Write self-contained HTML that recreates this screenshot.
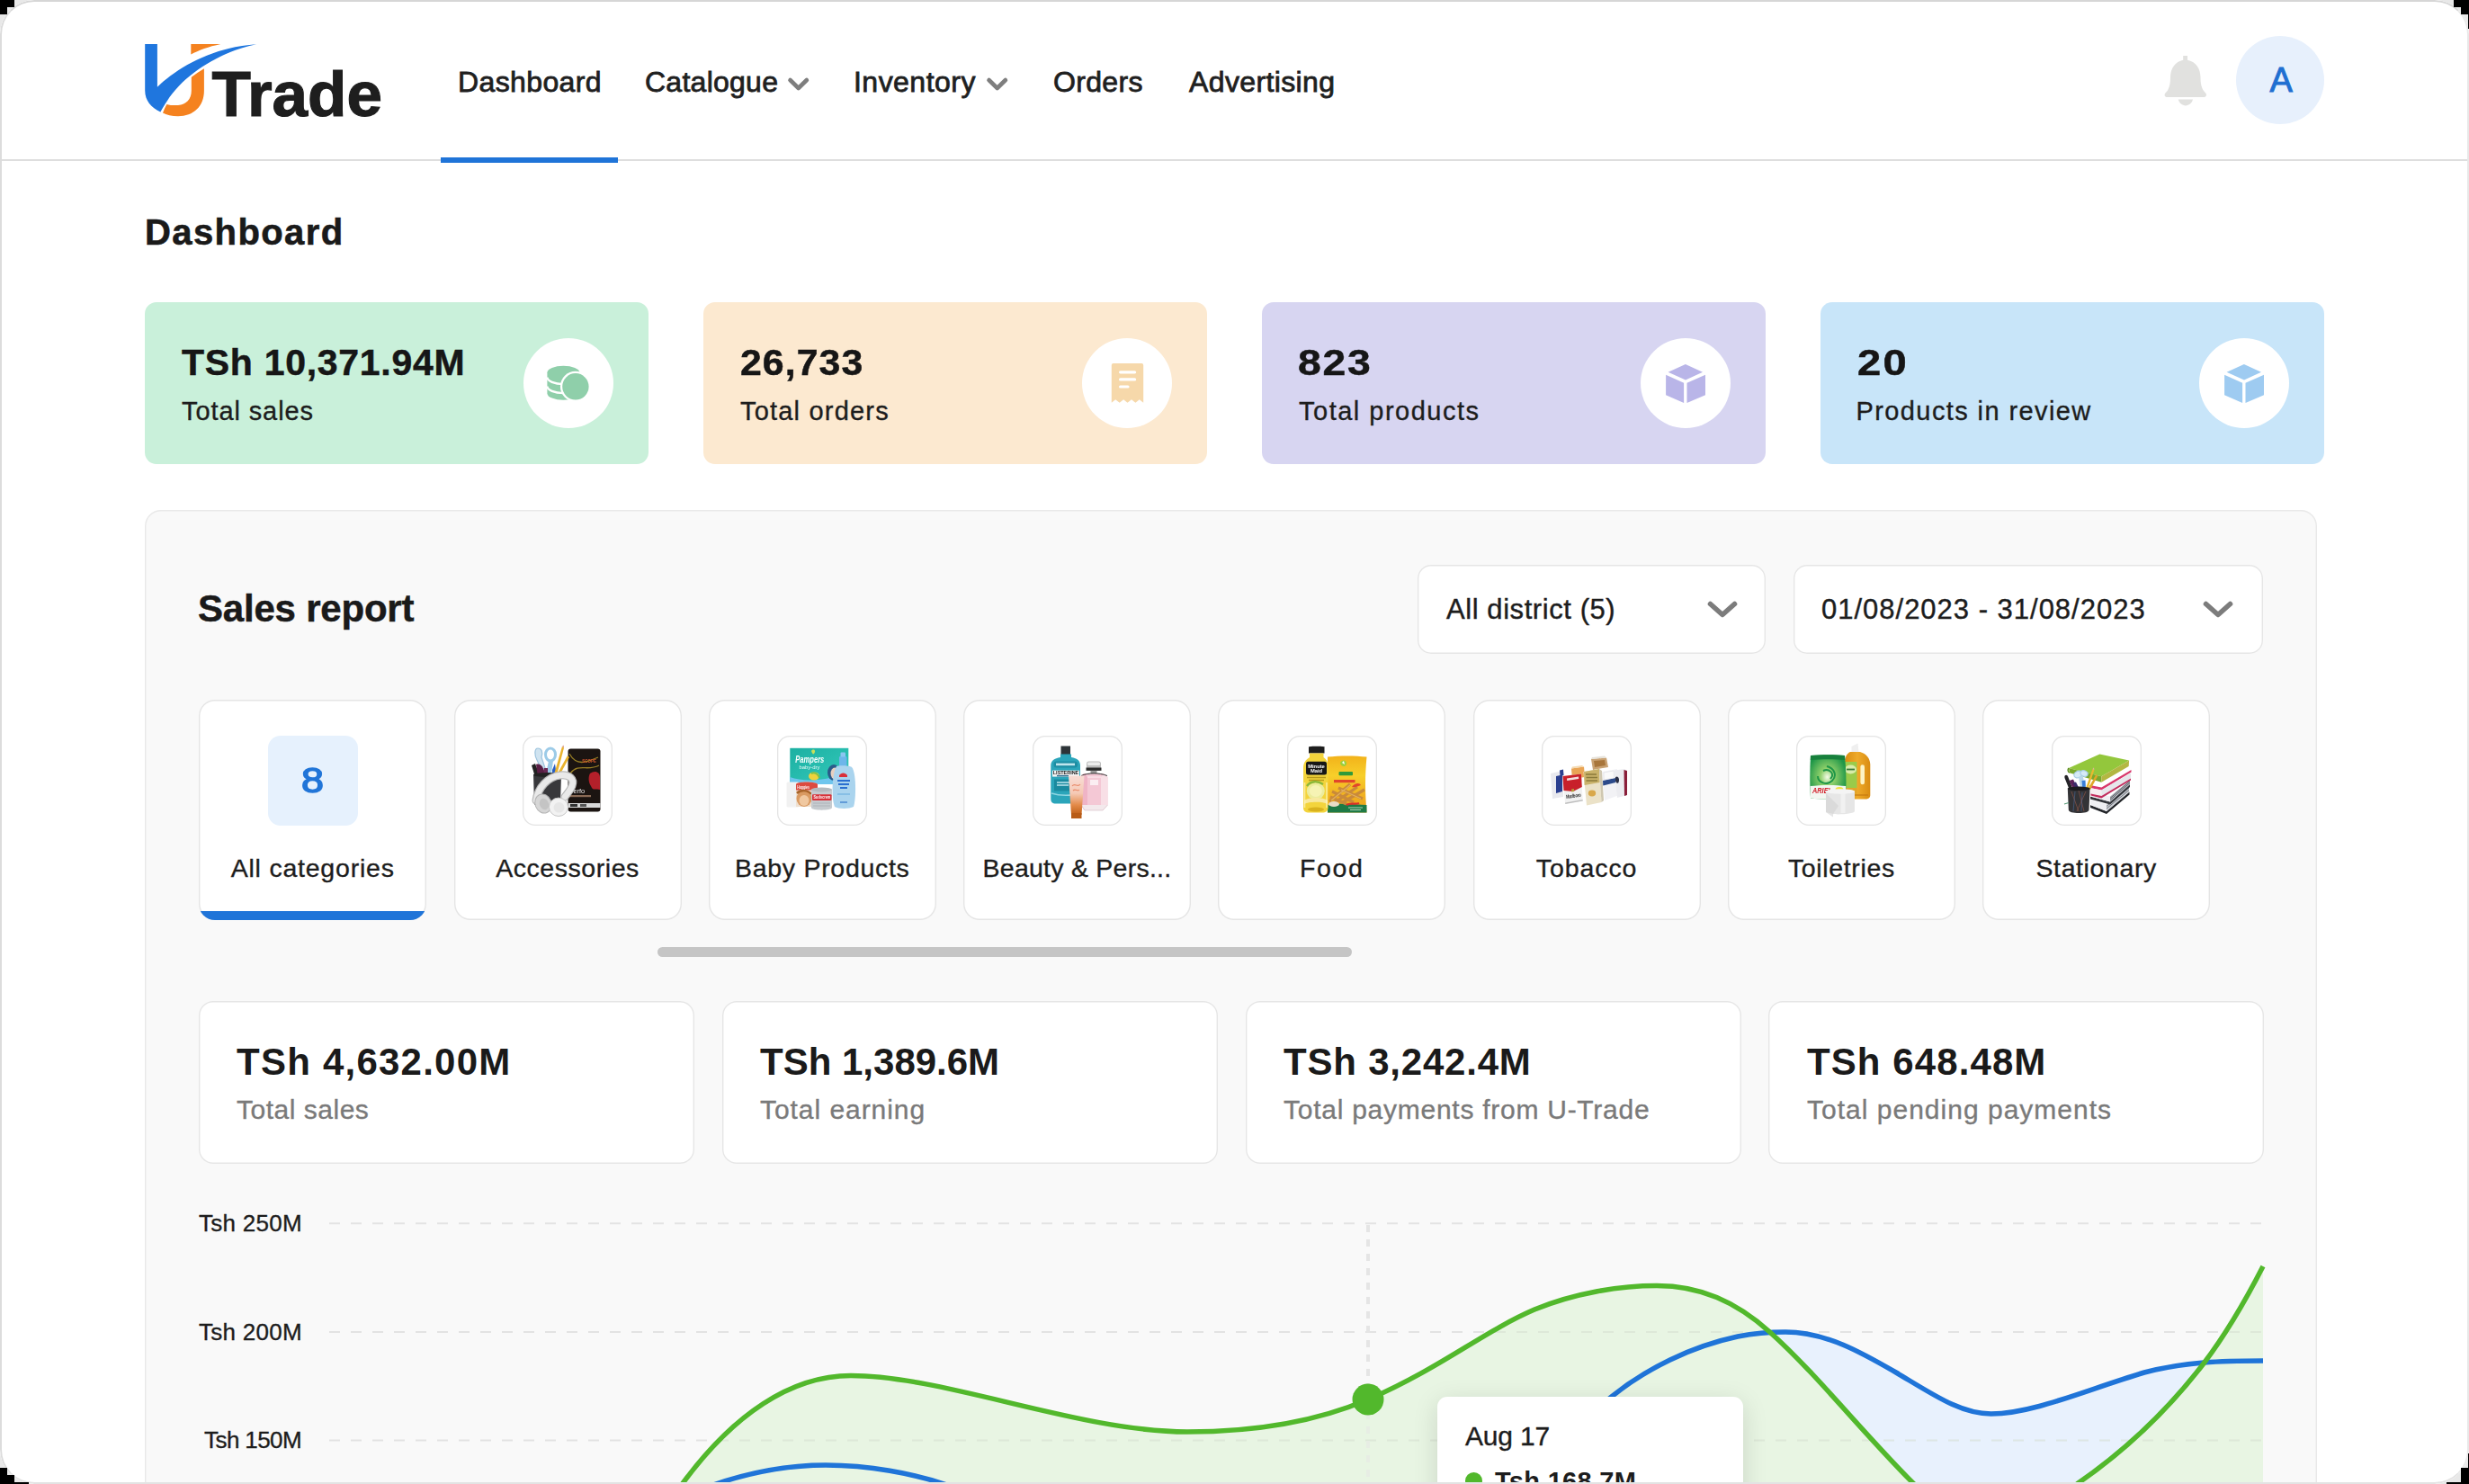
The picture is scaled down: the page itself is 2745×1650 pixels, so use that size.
<!DOCTYPE html>
<html lang="en">
<head>
<meta charset="utf-8">
<title>U-Trade Dashboard</title>
<style>
*{box-sizing:border-box;margin:0;padding:0}
html,body{width:2745px;height:1650px;overflow:hidden}
body{background:#e8e8e8;font-family:"Liberation Sans",sans-serif;color:#1b1b1b;position:relative}
.abs{position:absolute}
.win{position:absolute;left:0;top:0;width:2745px;height:1650px;background:#fff;border-radius:38px;overflow:hidden}
.winb{position:absolute;left:0;top:0;width:2745px;height:1650px;border:2px solid #dcdcdc;border-top-color:#d6d6d6;border-bottom-color:#e3e3e3;border-right-color:#e8e8e8;border-radius:38px;pointer-events:none}
.blk{position:absolute;background:#000}
.t{position:absolute;white-space:nowrap;line-height:1}
.b{font-weight:700}
.hdrline{position:absolute;left:0;top:177px;width:2745px;height:2.1px;background:#dedede}
.navbar{position:absolute;left:490px;top:175px;width:197px;height:6px;background:#1f74d8}
.nav{font-size:32px;color:#1f1f1f;-webkit-text-stroke:0.8px #1f1f1f}
.card{position:absolute;top:335.5px;width:560px;height:180.6px;border-radius:13px}
.card .num{position:absolute;left:41px;font-size:41px;font-weight:700;white-space:nowrap;line-height:1;color:#161616;-webkit-text-stroke:0.5px #161616}
.card .lbl{position:absolute;left:41px;font-size:30px;white-space:nowrap;line-height:1;color:#1d1d1d;-webkit-text-stroke:0.35px #1d1d1d}
.card .ic{position:absolute;left:420.5px;top:40px;width:100px;height:100px;border-radius:50%;background:#fff}
.panel{position:absolute;left:161px;top:566.5px;width:2414.5px;height:1200px;background:#f9f9f9;box-shadow:inset 0 0 0 1.4px #e9e9e9;border-radius:18px}
.dd{position:absolute;top:627.5px;height:99.5px;background:#fff;box-shadow:inset 0 0 0 1.4px #e6e6e6;border-radius:15px}
.cat{position:absolute;top:778px;width:253px;height:244.8px;background:#fff;box-shadow:inset 0 0 0 1.4px #e5e5e5;border-radius:18px;overflow:hidden}
.cat .thumb{position:absolute;left:76.6px;top:40.2px;width:100px;height:100px;box-shadow:inset 0 0 0 1.3px #e4e4e4;border-radius:14px;background:#fff;overflow:hidden}
.cat .cl{position:absolute;left:0;width:100%;text-align:center;top:173px;font-size:29px;line-height:1;white-space:nowrap;color:#1d1d1d;-webkit-text-stroke:0.35px #1d1d1d}
.ti{position:absolute;left:0;top:0;width:100px;height:100px;filter:blur(0.5px)}
.st{position:absolute;top:1113px;width:550.6px;height:180.6px;background:#fff;box-shadow:inset 0 0 0 1.4px #e6e6e6;border-radius:16px}
.st .num{position:absolute;left:42px;font-size:41px;font-weight:700;white-space:nowrap;line-height:1;color:#1a1a1a}
.st .lbl{position:absolute;left:42px;font-size:30px;white-space:nowrap;line-height:1;color:#7a7a7a;-webkit-text-stroke:0.35px #7a7a7a}
.yl{position:absolute;font-size:26px;line-height:1;white-space:nowrap;color:#1d1d1d;text-align:right;width:114px;left:221px;-webkit-text-stroke:0.35px #1d1d1d}
</style>
</head>
<body>
<div class="win">

<!-- HEADER -->
<svg class="abs" style="left:150px;top:35px" width="150" height="110" viewBox="150 35 150 110">
  <path d="M161.2,49.1 L174.9,49.1 L174.9,96.7 C196,76 236,52 285.1,49.2 C246,57 205,82 186,112 C183,116.5 180.5,120.5 178.4,124.4 C168,119.5 161.2,112 161.2,100.8 Z" fill="#1f76de"/>
  <path d="M212.3,49.1 L245.3,49.1 C232,52 221,56 212.3,60.6 Z" fill="#f5821f"/>
  <path d="M226.9,76.3 L226.9,100.8 C226.9,118.5 215,129.2 198,129.2 C191,129.2 185,127.8 181,125.4 C182.2,122.3 183.6,119.2 185.4,115.9 C189,117 193.5,117.3 198,117 C207,116.3 212.8,110.5 212.8,100.8 L212.8,85.8 C217.5,82.3 222,79.2 226.9,76.3 Z" fill="#f5821f"/>
</svg>
<div class="t b" id="logo" style="left:235.5px;top:68.5px;font-size:71px;letter-spacing:0px;color:#1e1e1e;-webkit-text-stroke:1.2px #1e1e1e">Trade</div>

<div class="t nav" id="n1" style="left:509px;top:75px;letter-spacing:0.38px">Dashboard</div>
<div class="t nav" id="n2" style="left:717px;top:75px;letter-spacing:0.26px">Catalogue</div>
<svg class="abs" style="left:874px;top:84px" width="28" height="20" viewBox="0 0 28 20"><path d="M4.5,5 L13.7,14 L22.9,5" fill="none" stroke="#7e7e7e" stroke-width="4.6" stroke-linecap="round" stroke-linejoin="round"/></svg>
<div class="t nav" id="n3" style="left:949px;top:75px;letter-spacing:0.47px">Inventory</div>
<svg class="abs" style="left:1095px;top:84px" width="28" height="20" viewBox="0 0 28 20"><path d="M4.5,5 L13.7,14 L22.9,5" fill="none" stroke="#7e7e7e" stroke-width="4.6" stroke-linecap="round" stroke-linejoin="round"/></svg>
<div class="t nav" id="n4" style="left:1171px;top:75px;letter-spacing:0.32px">Orders</div>
<div class="t nav" id="n5" style="left:1322px;top:75px;letter-spacing:0.37px">Advertising</div>

<svg class="abs" style="left:2400px;top:56px" width="60" height="66" viewBox="2400 56 60 66">
  <path d="M2427.2,62 h4.8 v4.7 C2441,68.5 2446.5,76 2446.5,86 C2446.5,93 2447.5,97 2450,101 L2452.6,104 C2453.6,106 2452.5,108 2450,108 L2409.5,108 C2407,108 2406,106 2407,104 L2409.7,101 C2412,97 2413,93 2413,86 C2413,76 2418.5,68.5 2427.2,66.7 Z" fill="#e1e1df"/>
  <path d="M2421.8,110.6 h16.2 C2437,115 2433.5,117.4 2429.9,117.4 C2426.3,117.4 2422.8,115 2421.8,110.6 Z" fill="#e1e1df"/>
</svg>
<div class="abs" style="left:2486px;top:40px;width:98px;height:98px;border-radius:50%;background:#e7f0fc"></div>
<div class="t" id="avA" style="left:2523.5px;top:70px;font-size:38px;color:#1f6fd1;-webkit-text-stroke:1px #1f6fd1">A</div>

<div class="hdrline"></div>
<div class="navbar"></div>

<!-- TITLE -->
<div class="t b" id="title" style="left:161px;top:238px;font-size:40px;letter-spacing:1.4px;color:#1a1a1a;-webkit-text-stroke:0.6px #1a1a1a">Dashboard</div>

<!-- STAT CARDS -->
<div class="card" style="left:161px;background:#c9f0da">
  <div class="num" id="c1n" style="top:47px;letter-spacing:0.71px">TSh 10,371.94M</div>
  <div class="lbl" id="c1l" style="top:107px;font-size:29px;letter-spacing:0.9px">Total sales</div>
  <div class="ic"><svg width="100" height="100" viewBox="0 0 100 100"><path d="M26.4,38.2 A18,7.5 0 0 1 62.4,38.2 V61.2 A18,7.5 0 0 1 26.4,61.2 Z" fill="#8fcfaa"/><path d="M26.4,43.6 A18,7.5 0 0 0 62.4,43.6 M26.4,53.6 A18,7.5 0 0 0 62.4,53.6" fill="none" stroke="#fff" stroke-width="2.4"/><circle cx="57.9" cy="53.8" r="17" fill="#fff"/><circle cx="57.9" cy="53.8" r="14.7" fill="#8fcfaa"/></svg></div>
</div>
<div class="card" style="left:782px;background:#fce9d0">
  <div class="num" id="c2n" style="top:47px;letter-spacing:1px;transform:scaleX(1.045);transform-origin:0 0">26,733</div>
  <div class="lbl" id="c2l" style="top:107px;font-size:29px;letter-spacing:1.2px">Total orders</div>
  <div class="ic"><svg width="100" height="100" viewBox="0 0 100 100"><path d="M34.8,28.1 H66.2 Q68.2,28.1 68.2,30.1 V71.8 L63.8,68.2 L59.4,71.8 L55,68.2 L50.5,71.8 L46.1,68.2 L41.7,71.8 L37.2,68.2 L32.8,71.8 V30.1 Q32.8,28.1 34.8,28.1 Z" fill="#f6d8aa"/><path d="M42.6,37.8 H58.6 M42.6,45.9 H58.6 M42.6,54 H51" stroke="#fff" stroke-width="3.2" stroke-linecap="round" fill="none"/></svg></div>
</div>
<div class="card" style="left:1403px;background:#d7d5f1">
  <div class="num" id="c3n" style="top:47px;letter-spacing:1.5px;transform:scaleX(1.13);transform-origin:0 0;left:40px">823</div>
  <div class="lbl" id="c3l" style="top:107px;font-size:29px;letter-spacing:1.5px">Total products</div>
  <div class="ic"><svg width="100" height="100" viewBox="0 0 100 100"><g fill="#b9b5e8"><path d="M49.9,28.9 L69,37.8 L50,46.4 L30.6,37.8 Z"/><path d="M28.1,40.7 L48.1,49.7 V71.9 L28.1,63.3 Z"/><path d="M51.5,49.7 L72,40.7 V63.3 L51.5,71.9 Z"/></g></svg></div>
</div>
<div class="card" style="left:2024px;background:#c8e5f9">
  <div class="num" id="c4n" style="top:47px;letter-spacing:2px;transform:scaleX(1.15);transform-origin:0 0;left:40.5px">20</div>
  <div class="lbl" id="c4l" style="top:107px;font-size:29px;letter-spacing:1.4px;left:39.5px">Products in review</div>
  <div class="ic"><svg width="100" height="100" viewBox="0 0 100 100"><g fill="#9ecbf1"><path d="M49.9,28.9 L69,37.8 L50,46.4 L30.6,37.8 Z"/><path d="M28.1,40.7 L48.1,49.7 V71.9 L28.1,63.3 Z"/><path d="M51.5,49.7 L72,40.7 V63.3 L51.5,71.9 Z"/></g></svg></div>
</div>

<!-- PANEL -->
<div class="panel"></div>

<div class="t b" id="sr" style="left:220px;top:656px;font-size:42px;letter-spacing:-0.21px;color:#1a1a1a;-webkit-text-stroke:0.5px #1a1a1a">Sales report</div>

<div class="dd" style="left:1576px;width:387px"></div>
<div class="t" id="dd1" style="left:1608px;top:662px;font-size:31px;color:#1d1d1d;-webkit-text-stroke:0.4px #1d1d1d;letter-spacing:0.57px">All district (5)</div>
<svg class="abs" style="left:1895px;top:664px" width="40" height="26" viewBox="0 0 40 26"><path d="M6.5,7.5 L20,19.5 L33.5,7.5" fill="none" stroke="#7c7c7c" stroke-width="5.6" stroke-linecap="round" stroke-linejoin="round"/></svg>
<div class="dd" style="left:1994px;width:522px"></div>
<div class="t" id="dd2" style="left:2025px;top:662px;font-size:31px;color:#1d1d1d;-webkit-text-stroke:0.4px #1d1d1d;letter-spacing:0.99px">01/08/2023 - 31/08/2023</div>
<svg class="abs" style="left:2446px;top:664px" width="40" height="26" viewBox="0 0 40 26"><path d="M6.5,7.5 L20,19.5 L33.5,7.5" fill="none" stroke="#7c7c7c" stroke-width="5.6" stroke-linecap="round" stroke-linejoin="round"/></svg>

<!-- CATEGORIES -->
<div class="cat" style="left:221.2px">
  <div class="thumb" style="background:#e6f1fd;box-shadow:none"></div>
  <div class="t" id="eight" style="left:0;width:100%;text-align:center;top:70px;font-size:39px;color:#2175d8;-webkit-text-stroke:1.5px #2175d8;transform:scaleX(1.15)">8</div>
  <div class="cl" id="k1" style="top:173px;font-size:28.5px;letter-spacing:0.78px">All categories</div>
  <div class="abs" style="left:0;bottom:0;width:100%;height:9.6px;background:#1f74d8"></div>
</div>
<div class="cat" style="left:504.5px"><div class="thumb"><svg class="ti" id="th1" viewBox="0 0 100 100"><g><!-- canister --><rect x="50.5" y="14.5" width="36" height="70" rx="3" fill="#1b1411"/><path d="M52,20 C60,34 70,30 84,24 M53,42 C62,30 72,40 85,33" stroke="#b89a2a" stroke-width="1.3" fill="none" opacity=".8"/><path d="M75,42 C80,38 86,40 86,46 V60 C82,58 78,62 76,56 C73,52 73,45 75,42Z" fill="#b3202a"/><text x="66.3" y="29.6" font-family="Liberation Sans, sans-serif" font-size="5" font-weight="700" fill="#d0562c" textLength="15.6" lengthAdjust="spacingAndGlyphs">SCOPE</text><text x="51.6" y="63.6" font-family="Liberation Sans, sans-serif" font-size="7.5" fill="#f1f1f1" textLength="17.5" lengthAdjust="spacingAndGlyphs">Perfo</text><rect x="52" y="66" width="24" height="2.2" fill="#8a6a55"/><rect x="51" y="75" width="35.5" height="5" fill="#d8d8d8"/><rect x="53" y="76" width="8" height="3" fill="#333"/><rect x="64" y="76" width="7" height="3" fill="#555"/><!-- scissors/pens --><path d="M17,14 C13,14 13,22 16,27 L21,38 L25,36 L21,24 C23,18 21,14 17,14Z" fill="#cfe3f0" stroke="#9cc3dd" stroke-width="1.2"/><ellipse cx="31" cy="21" rx="5.5" ry="7" fill="none" stroke="#9ccbe8" stroke-width="3"/><path d="M29,28 L26,42 L32,42 L34,28Z" fill="#9ccbe8"/><path d="M33,38 L36,31 L38,46 L33,47Z" fill="#2b5fc4"/><path d="M44,12 L46,13.5 L38,44 L35,43Z" fill="#e9b32e"/><path d="M44,12 L46,13.5 L45.6,10.5Z" fill="#d99a8a"/><path d="M50,22 L52,24 L40,46 L37.5,44.5Z" fill="#e9b32e"/><path d="M10,33 L14,31 L19,44 L14,46Z" fill="#222"/><path d="M15,32 C19,30 24,34 25,44 L17,46Z" fill="#5a1f45"/><path d="M24,36 L28,36 L28,46 L23,46Z" fill="#6a2a55"/><!-- pen holder --><path d="M12,43 H43 L42,76 C42,79 13,79 13,76Z" fill="#38383b"/><ellipse cx="27.5" cy="43.5" rx="15.5" ry="2.6" fill="#222"/><!-- headphones --><path d="M15,72 C17,58 28,45.5 42,44 C52,43 58,48 55,56 C53,61 50,64 47,68" fill="none" stroke="#b8b8b8" stroke-width="9" stroke-linecap="round"/><path d="M15,72 C17,58 28,45.5 42,44 C52,43 58,48 55,56 C53,61 50,64 47,68" fill="none" stroke="#e9e9e9" stroke-width="6.6" stroke-linecap="round"/><ellipse cx="23" cy="75.5" rx="9" ry="10.8" transform="rotate(-22 23 75.5)" fill="#d6d6d6" stroke="#b4b4b4" stroke-width="1"/><ellipse cx="24" cy="76" rx="5" ry="6.4" transform="rotate(-22 24 76)" fill="#c4c4c4"/><ellipse cx="40" cy="79.3" rx="10.6" ry="10.2" fill="#f2f2f2" stroke="#c6c6c6" stroke-width="1"/><ellipse cx="40.5" cy="79.8" rx="6" ry="5.8" fill="#e6e6e6"/></g></svg></div><div class="cl" id="k2" style="top:173px;font-size:28.5px;letter-spacing:0.55px">Accessories</div></div>
<div class="cat" style="left:787.8px"><div class="thumb"><svg class="ti" id="th2" viewBox="0 0 100 100"><defs><linearGradient id="pg" x1="0" x2="1" y1="0" y2="1"><stop offset="0" stop-color="#1bb0a2"/><stop offset="1" stop-color="#35c9bb"/></linearGradient></defs><g><rect x="14.3" y="13.8" width="65" height="40" fill="url(#pg)"/><path d="M14.3,46 C30,52 60,50 79,40 V54 H14.3Z" fill="#6fc6ee"/><text x="20.3" y="30.2" font-family="Liberation Sans, sans-serif" font-size="10.5" font-weight="700" font-style="italic" fill="#fff" textLength="32" lengthAdjust="spacingAndGlyphs">Pampers</text><text x="24.5" y="37" font-family="Liberation Sans, sans-serif" font-size="5.6" fill="#e4f8f5" textLength="23" lengthAdjust="spacingAndGlyphs">baby-dry</text><path d="M38,17 C40,14 44,16 41,20 C40,21 39,20 38,17Z" fill="#c8e05a"/><ellipse cx="41" cy="45" rx="6" ry="4.5" fill="#f0d23c"/><path d="M38,42 C42,40 46,43 47,47" stroke="#7cc04a" stroke-width="2" fill="none"/><ellipse cx="63" cy="41" rx="7" ry="9" fill="#2a5a8a"/><ellipse cx="64" cy="42" rx="4.5" ry="6.5" fill="#e8d0c0"/><!-- white pack --><rect x="10.5" y="51.5" width="14" height="28" rx="1.5" fill="#f1f1f1"/><!-- huggies --><path d="M21,54 C21,50.5 44,50.5 45,54 V79 H21Z" fill="#efe0d0"/><path d="M21,54 C21,50.5 44,50.5 45,54 V60.5 H21Z" fill="#dc4a40"/><text x="22.3" y="59" font-family="Liberation Sans, sans-serif" font-size="5.2" font-weight="700" fill="#fff" textLength="13.5" lengthAdjust="spacingAndGlyphs">Huggies</text><ellipse cx="30" cy="70" rx="8.5" ry="9" fill="#d99a62"/><ellipse cx="30" cy="72" rx="5.5" ry="6" fill="#f0c8a0"/><path d="M22,64 C26,60 34,60 38,65" stroke="#a8642a" stroke-width="2.5" fill="none"/><!-- johnsons --><path d="M69,34 V24 C69,21.5 77.5,21.5 77.5,24 V34Z" fill="#6db6ea"/><rect x="70.5" y="18.5" width="5.5" height="5" rx="1" fill="#8cc6f0"/><path d="M66,34 C68,33 80,33 83,35 C88,40 88,70 85,79 C80,81.5 68,81.5 64,79 C60,70 61,42 66,34Z" fill="#aad4ee"/><path d="M69,44 C71,40.5 76,40.5 78,44 V46 H69Z" fill="#d9303a"/><path d="M67,50 H81 M68,54 H80 M70,58 H78" stroke="#2a6fd0" stroke-width="2.2"/><path d="M67,65 H81" stroke="#6fb0e0" stroke-width="1.2"/><path d="M70,74 H78" stroke="#4a8ad0" stroke-width="1.5"/><!-- sudocrem --><path d="M38,60 C38,57.5 61,57.5 61,60 V80 C61,83.5 38,83.5 38,80Z" fill="#c6cbcf"/><ellipse cx="49.5" cy="60" rx="11.5" ry="2.6" fill="#b4babf"/><rect x="39" y="65.3" width="21.5" height="6.6" rx="1" fill="#d8323a"/><text x="40.6" y="70.4" font-family="Liberation Sans, sans-serif" font-size="5" font-weight="700" fill="#fff" textLength="18.5" lengthAdjust="spacingAndGlyphs">Sudocrem</text><path d="M40,75 H59 M40,78 H59" stroke="#aeb4b9" stroke-width="1.1"/></g></svg></div><div class="cl" id="k3" style="top:173px;font-size:28.5px;letter-spacing:0.7px">Baby Products</div></div>
<div class="cat" style="left:1071px"><div class="thumb"><svg class="ti" id="th3" viewBox="0 0 100 100"><defs><linearGradient id="tb" x1="0" x2="0" y1="0" y2="1"><stop offset="0" stop-color="#f8ddd6"/><stop offset=".45" stop-color="#f5c9b5"/><stop offset=".75" stop-color="#e38a48"/><stop offset="1" stop-color="#bf5f17"/></linearGradient></defs><g><!-- listerine --><path d="M31.5,11.5 H42 V21 H31.5Z" fill="#2d3438"/><path d="M31,20.5 H43 V24 C50,25 53,28 53,33 V70 C53,74 50,75.5 46,75.5 H26 C22,75.5 20.3,74 20.3,70 V33 C20.3,28 24,25 31,24Z" fill="#2ba5ba"/><rect x="23.5" y="28.5" width="26.5" height="7" rx="3" fill="#1d8ea3"/><rect x="26" y="30.6" width="21" height="2.6" fill="#bfe6ee"/><rect x="22" y="38.6" width="30" height="7" fill="#f4f4f4"/><text x="22.8" y="43" font-family="Liberation Sans, sans-serif" font-size="5.6" font-weight="700" fill="#1b1b1b" textLength="28.4" lengthAdjust="spacingAndGlyphs">LISTERINE</text><path d="M27,44.6 H40" stroke="#2b6a8a" stroke-width="1.4"/><rect x="24" y="48.5" width="27" height="13" fill="#1a8a9f"/><path d="M27,52 H46 M27,55 H40" stroke="#bfe6ee" stroke-width="1.4"/><path d="M21,64 C30,67 44,67 52.5,64" stroke="#8fd6e2" stroke-width="1.6" fill="none"/><!-- perfume --><rect x="60" y="28.5" width="16" height="10.5" rx="2.5" fill="#bdbdbd"/><rect x="61" y="29.5" width="14" height="3.5" rx="1.5" fill="#ececec"/><rect x="59.5" y="35.5" width="17" height="3.3" fill="#2a2a2a"/><rect x="64.5" y="39" width="7" height="3" fill="#9a9a9a"/><path d="M57,42 H79 L83.5,46 V77 L78,83 H58 L53.5,77 V46Z" fill="#f4c8d5"/><path d="M57,42 L61,46 V80 L58,83 L53.5,77 V46Z" fill="#efb4c6"/><path d="M79,42 L76,46 V80 L78,83 L83.5,77 V46Z" fill="#f8dfe6"/><path d="M61,46 H76" stroke="#fff" stroke-width="1" opacity=".7"/><rect x="64" y="49" width="9" height="6" fill="#fbeef2"/><path d="M54,77 L58,83 H78 L83.5,77" fill="#f3e9ec" stroke="#d9c3ca" stroke-width=".7"/><path d="M54,44.5 C62,41 74,41 83,44.5" stroke="#333" stroke-width="1" fill="none"/><!-- tube --><path d="M40,44.5 H57.5 L54.5,88 H43Z" fill="url(#tb)"/><rect x="43" y="86" width="11.5" height="6" fill="#b85c17"/><path d="M44,56 C47,52 50,58 53,54 M45,61 C48,58 50,63 52,60" stroke="#e98a6a" stroke-width="1.1" fill="none"/></g></svg></div><div class="cl" id="k4" style="top:173px;font-size:28.5px;letter-spacing:0.25px">Beauty &amp; Pers...</div></div>
<div class="cat" style="left:1354.3px"><div class="thumb"><svg class="ti" id="th4" viewBox="0 0 100 100"><defs><linearGradient id="sb" x1="0" x2="0" y1="0" y2="1"><stop offset="0" stop-color="#f2b21a"/><stop offset=".35" stop-color="#f7cf2a"/><stop offset=".7" stop-color="#f1b020"/><stop offset="1" stop-color="#e9a21c"/></linearGradient></defs><g><!-- snack bag --><path d="M45,23.5 C58,22 76,22 88.5,23.5 C86.5,45 86.5,62 88.5,85.5 H45Z" fill="url(#sb)"/><path d="M45,77 C58,74.5 76,76 88.5,77 V85.5 H45Z" fill="#1e7a45"/><path d="M59,31 C59,27 65,26 66,30 C67,34 61,36 59,31Z" fill="#9ccf3a"/><path d="M61,30 L64,32 L63,28Z" fill="#fff"/><rect x="57.5" y="40" width="15.5" height="4.2" rx="1" fill="#2f9a3a"/><rect x="52" y="49" width="23.5" height="3.2" fill="#e2472a"/><path d="M47,73 L70,54 M52,75 L78,57 M50,62 L74,74 M57,58 L84,70 M62,74 L86,60 M48,68 L66,76" stroke="#c98a3a" stroke-width="3.2"/><path d="M49,72 L70,55 M60,60 L82,70" stroke="#e2b060" stroke-width="1.2"/><ellipse cx="52" cy="76" rx="6" ry="3" fill="#e8dcc8"/><path d="M66,77 C70,74 76,77 80,75" stroke="#d8302a" stroke-width="2.2" fill="none"/><path d="M72,57 C75,52 81,52 82,55 C79,56 75,58 72,57Z" fill="#e2472a"/><path d="M68,80 H84 M70,82.5 H82" stroke="#bfe0c8" stroke-width=".9"/><!-- bottle --><path d="M24,12.5 C24,11.5 41.5,11.5 41.5,12.5 V19.5 H24Z" fill="#1e1e1e"/><path d="M25,19.5 H40.5 V24 C45,27 45.5,31 45.5,36 V80 C45.5,84 43,85.5 39,85.5 H24.5 C20.5,85.5 18,84 18,80 V36 C18,31 20,27 25,24Z" fill="#f3d43c"/><rect x="21" y="28.8" width="23" height="14.6" rx="2.5" fill="#161616"/><text x="32.5" y="35.6" text-anchor="middle" font-family="Liberation Sans, sans-serif" font-size="5.8" font-weight="700" fill="#fff">Minute</text><text x="32.5" y="41.3" text-anchor="middle" font-family="Liberation Sans, sans-serif" font-size="5.8" font-weight="700" fill="#fff">Maid</text><path d="M22,46.5 H43 M24,49.5 H41" stroke="#b89a1a" stroke-width="1.5"/><ellipse cx="31.8" cy="61.5" rx="10" ry="9.5" fill="#ecec9c"/><ellipse cx="31.8" cy="61.5" rx="7" ry="6.5" fill="#f6f3b4"/><path d="M22,56 C26,50 34,50 40,54" stroke="#8ab83a" stroke-width="2.3" fill="none"/><path d="M19,72 C24,68 40,68 45,72 V76 C40,73 24,73 19,76Z" fill="#f8e9a0"/><ellipse cx="32" cy="82" rx="9" ry="2.6" fill="#d9b21e"/><path d="M19.5,52 V80 M44,52 V80" stroke="#fff6c0" stroke-width="1.6" opacity=".7"/></g></svg></div><div class="cl" id="k5" style="top:173px;font-size:28.5px;letter-spacing:1.6px">Food</div></div>
<div class="cat" style="left:1637.6px"><div class="thumb"><svg class="ti" id="th5" viewBox="0 0 100 100"><g><!-- tan pack top --><path d="M55,26 L72,24.5 L74,35 L57,38Z" fill="#c9a273"/><path d="M58,28 L70,27 L71,33 L59,35Z" fill="#a8763c"/><path d="M55,26 L72,24.5 L70,22.5 L56,24Z" fill="#e6e2da"/><!-- right white packs --><path d="M67.5,40 L84,37 L86,66 L70,72Z" fill="#f2f2f5"/><path d="M68,50 L82,47 L82.3,52 L68.3,55.5Z" fill="#2c4a8a"/><path d="M69,41 L80,39 L80.5,47 L69.3,49Z" fill="#fafafa" stroke="#d8d8de" stroke-width=".5"/><path d="M81,38.5 L92,37 L95,39 L95,66 L84,69Z" fill="#ececf0"/><path d="M91.5,38 L95,39 V66 L92,67Z" fill="#8a1f3a"/><path d="M82,46 C85,44 87,48 85.5,52 C84,54 82.5,52 82,50Z" fill="#2a2f45"/><!-- orange pack --><path d="M33,36.5 L47,34.5 L48,46 L34,48Z" fill="#e9a455"/><path d="M33,36.5 L47,34.5 L45,33 L34,34.5Z" fill="#f4d9b0"/><!-- left white/blue pack --><path d="M10,42 L21,39.5 L24,41 V68 L12,70Z" fill="#e9e9ee"/><path d="M16,45 L23,43.5 V62 L16,64Z" fill="#2a3f8f"/><path d="M20,38.5 L24,37.5 L24.5,44 L20.5,45Z" fill="#2a3f8f"/><!-- camel pack --><path d="M46.5,40 L64,37 L66.5,74 L50,77.5Z" fill="#ebe2c8"/><path d="M47,40 L64,37 L64.5,52 L47.6,55Z" fill="#c9b26a"/><path d="M49,43 H61 M49.5,46.5 H62 M49.5,50 H62" stroke="#8a7a3a" stroke-width="1.6"/><ellipse cx="56" cy="64" rx="4.2" ry="3.4" fill="#d9a84a"/><path d="M64,37 L67,39 L69,72 L66.5,74Z" fill="#cfc7b0"/><!-- marlboro --><path d="M23.5,45 L44,42.5 L45.6,71 L26,74.5Z" fill="#f1f1f1"/><path d="M23.5,45 L44,42.5 L44.8,57 L35,62 L24.5,61Z" fill="#c8202a"/><path d="M28,47.5 L41,45.6 L41.2,48 L28.2,50Z" fill="#f3dede"/><text x="27.5" y="70" font-family="Liberation Sans, sans-serif" font-size="6" font-weight="700" fill="#222" textLength="16.5" lengthAdjust="spacingAndGlyphs" transform="rotate(-8 27.5 70)">Marlboro</text><path d="M33,59.5 L36,59 L36.2,62 L33.3,62.5Z" fill="#b89a3a"/><path d="M26,74.5 L45.6,71 L45.8,72.6 L26.3,76Z" fill="#bdbdbd"/></g></svg></div><div class="cl" id="k6" style="top:173px;font-size:28.5px;letter-spacing:0.9px">Tobacco</div></div>
<div class="cat" style="left:1920.9px"><div class="thumb"><svg class="ti" id="th6" viewBox="0 0 100 100"><defs><radialGradient id="ar" cx=".48" cy=".5" r=".55"><stop offset="0" stop-color="#f4fbe8"/><stop offset=".35" stop-color="#8fd06a"/><stop offset="1" stop-color="#1e9648"/></radialGradient><linearGradient id="dt" x1="0" x2="1"><stop offset="0" stop-color="#d98c12"/><stop offset=".5" stop-color="#eeaa2a"/><stop offset="1" stop-color="#d98c12"/></linearGradient></defs><g><!-- dettol --><path d="M61.5,12 L68.5,8.5 L69.5,18 H61.5Z" fill="#efefef"/><path d="M60,18 H71 C78,20 82,25 82.3,32 V66 C82.3,69 80,70.5 77,70.5 H58 C55,70.5 54,69 54,66 V30 C54,24 56,20 60,18Z" fill="url(#dt)"/><rect x="71.4" y="32.3" width="4.6" height="22" rx="2.3" fill="#fdf3c4"/><path d="M54,29 H67.5 V58 H54Z" fill="#9acb4a"/><ellipse cx="60.5" cy="37.5" rx="6.5" ry="5" fill="#d8ecaa"/><path d="M56,37.5 H65" stroke="#3a7a3a" stroke-width="1.8"/><path d="M54,58 H67.5 V66 H54Z" fill="#e2a52a"/><path d="M56,66 H80" stroke="#c47a10" stroke-width="1.2"/><!-- ariel --><path d="M16,22 C28,21 44,21 54,22 C55.5,40 56,55 54.8,69.5 C44,71 28,71 16,69.5 C15,55 15,38 16,22Z" fill="url(#ar)"/><path d="M16,22 C28,21 44,21 54,22 L54.3,27 C44,26 28,26 15.8,27Z" fill="#17803c"/><path d="M34,34 C42,36 46,44 40,50 C34,56 24,52 24,45 M30,39 C36,36 44,42 38,48" stroke="#1e9648" stroke-width="2" fill="none"/><path d="M15.6,56 C28,54.5 44,54.5 55.2,56 L54.8,69.5 C44,71 28,71 16,69.5Z" fill="#f3f7f1"/><text x="18" y="64" font-family="Liberation Sans, sans-serif" font-size="8.2" font-weight="700" font-style="italic" fill="#d3202a" textLength="22" lengthAdjust="spacingAndGlyphs">ARIEL</text><ellipse cx="48" cy="60" rx="4.5" ry="3" fill="#f0e23c"/><!-- tissue roll --><path d="M33,62 C33,59 65,59 65,62 V84 C65,87 45,88 41,87 L41,90.5 L33,85Z" fill="#e6e6e6"/><ellipse cx="49" cy="62" rx="16" ry="2.8" fill="#f4f4f4"/><path d="M33,64 L47,78 L41,87 L33,85Z" fill="#dadada"/><path d="M52,64 V86" stroke="#f6f6f6" stroke-width="5" opacity=".7"/></g></svg></div><div class="cl" id="k7" style="top:173px;font-size:28.5px;letter-spacing:0.65px">Toiletries</div></div>
<div class="cat" style="left:2204.2px"><div class="thumb"><svg class="ti" id="th7" viewBox="0 0 100 100"><g><!-- bottom book --><path d="M43,77 L61,84 L86.5,62.5 L86.5,65.5 L61,87 L43,80Z" fill="#23262a"/><path d="M43,71 L61,76.5 V84 L43,77Z" fill="#eeeff2"/><path d="M61,76.5 L86,56 V62.5 L61,84Z" fill="#c9ccd2"/><path d="M61,78.5 L86,58 M61,81 L86,60.5" stroke="#6a6e75" stroke-width=".9"/><!-- third book --><path d="M43,67.5 L65,73.5 L87,54 L87,57 L65,76.5 L43,70.5Z" fill="#34373c"/><path d="M43,62 L65,67.5 V73.5 L43,67.5Z" fill="#f0f0f3"/><path d="M65,67.5 L87,49 V54 L65,73.5Z" fill="#b9bcc3"/><path d="M65,69.5 L87,50.5 M65,71.5 L87,52.5" stroke="#4a4e55" stroke-width=".9"/><!-- pink book --><path d="M42.5,55 L55.4,57.5 L88.5,38 L88.5,40.5 L55.4,60.5 L42.5,58Z" fill="#d8386c"/><path d="M42.5,58 L55.4,60.5 V67 L43.5,64.5Z" fill="#f6eef1"/><path d="M55.4,60.5 L88,41.5 V47.5 L55.4,67Z" fill="#e6e7eb"/><path d="M43.5,64.5 L55.4,67 L88,47.5 V49.5 L55.4,69.5 L43.5,66.5Z" fill="#c22e5e"/><!-- green book --><path d="M19,36 L53.4,20.6 L86.1,27.5 L55.4,45.3Z" fill="#93c73c"/><path d="M19,36 L55.4,45.3 V51.7 L19.8,41.2Z" fill="#7aa82c"/><path d="M55.4,45.3 L86.1,27.5 L85.7,34 L55.4,51.7Z" fill="#b3b742"/><path d="M19,36 C17.6,37.5 17.8,40 19.8,41.2" stroke="#5a8a1f" stroke-width="1.4" fill="none"/><!-- pens --><path d="M14.5,47 C13.5,43.5 17.5,42.5 18.4,46 L23,58 L19.5,59.5Z" fill="#242428"/><path d="M19.5,50 L24,48.5 L29,59 L24.5,60.5Z" fill="#5c2058"/><path d="M23.5,52.5 L27,51.5 L31,59.5 L27.5,60.5Z" fill="#3a2a6a"/><ellipse cx="29.5" cy="43" rx="4.8" ry="3.6" transform="rotate(-25 29.5 43)" fill="#d6eaf6" stroke="#a9cfe6" stroke-width="1.3"/><ellipse cx="36" cy="42" rx="4.2" ry="3.2" transform="rotate(20 36 42)" fill="#d6eaf6" stroke="#a9cfe6" stroke-width="1.3"/><path d="M30,46 L35,45 L36.5,58 L32,58.5Z" fill="#b9d7ea"/><path d="M33.5,50 L37.5,49.5 L38,59.5 L34.5,60Z" fill="#3a7fd9"/><path d="M45.5,37 L47.3,38.3 L40.5,59 L38,58Z" fill="#e8b830"/><path d="M45.5,37 L47.3,38.3 L47,35.2Z" fill="#e2b59a"/><path d="M49.5,43 L51.3,44.8 L43,60 L40.6,58.6Z" fill="#dfa728"/><!-- pen holder --><path d="M17.8,58.5 H42.5 L41.5,82.5 C41.5,87.3 18.8,87.3 18.8,82.5Z" fill="#333336"/><ellipse cx="30.2" cy="58.8" rx="12.4" ry="2.3" fill="#1b1b1e"/><path d="M22,62 L30,84 M38,62 L28,84 M30,61 L36,84" stroke="#9a5a4a" stroke-width="1" opacity=".6"/><path d="M26,62 L24,84 M34,63 L33,84" stroke="#4a6a9a" stroke-width="1" opacity=".6"/><path d="M14,76 L19,74.5" stroke="#5a9a7a" stroke-width="1.1"/></g></svg></div><div class="cl" id="k8" style="top:173px;font-size:28.5px;letter-spacing:0.6px">Stationary</div></div>

<div class="abs" style="left:731.3px;top:1053.3px;width:771.7px;height:10.5px;border-radius:6px;background:#c5c5c5"></div>

<!-- STATS -->
<div class="st" style="left:221px"><div class="num" id="s1n" style="top:47px;font-size:42px;letter-spacing:1.23px">TSh 4,632.00M</div><div class="lbl" id="s1l" style="top:106px;letter-spacing:0.51px">Total sales</div></div>
<div class="st" style="left:803px"><div class="num" id="s2n" style="top:47px;font-size:42px;letter-spacing:0px">TSh 1,389.6M</div><div class="lbl" id="s2l" style="top:106px;letter-spacing:0.95px">Total earning</div></div>
<div class="st" style="left:1385px"><div class="num" id="s3n" style="top:47px;font-size:42px;letter-spacing:0.79px">TSh 3,242.4M</div><div class="lbl" id="s3l" style="top:106px;letter-spacing:0.74px">Total payments from U-Trade</div></div>
<div class="st" style="left:1966px"><div class="num" id="s4n" style="top:47px;font-size:42px;letter-spacing:1.09px;left:43px">TSh 648.48M</div><div class="lbl" id="s4l" style="top:106px;letter-spacing:1.01px;left:43px">Total pending payments</div></div>


<svg class="abs" style="left:0;top:1300px" width="2745" height="350" viewBox="0 1300 2745 350">
<defs><clipPath id="cf"><path d="M757,1652 C 815,1572 880,1529.5 946,1529.5 C 1050,1529.5 1200,1592 1320,1592 C 1400,1592 1465,1580 1521,1556 C 1600,1522 1650,1480 1706,1456 C 1750,1438 1800,1429.5 1842,1429.5 C 1890,1429.5 1930,1447 1967.6,1481 C 2020,1528 2070,1592 2128,1650 L757,1652 Z"/><path d="M2309,1650 C 2360,1615 2410,1568 2450,1516 C 2475,1483 2496,1447 2516,1408 L2516,1660 L2309,1660 Z"/><path d="M1700,1660 C 1730,1610 1760,1578 1792,1552.6 C 1830,1522 1880,1497 1932,1486 C 1950,1482.5 1968,1481 1985,1481 C 2030,1481 2070,1504 2108,1526 C 2150,1551 2180,1572 2213.7,1572 C 2260,1572 2320,1545 2384,1526 C 2430,1514 2470,1513 2516,1513 L2516,1660 L1700,1660 Z"/></clipPath></defs>
  <g stroke="#e3e3e3" stroke-width="2" stroke-dasharray="12 12" fill="none">
    <path d="M366,1360.3 H2516"/><path d="M366,1481 H2516"/><path d="M366,1601.6 H2516"/>
    <path d="M1521,1362 V1650" stroke="#e5e5e5" stroke-width="4" stroke-dasharray="8 8"/>
  </g>
  <path d="M790,1652 C 830,1638 875,1629 918,1629 C 965,1629 1015,1638 1056,1652 Z" fill="#e8f1fd"/>
  <path d="M1700,1660 C 1730,1610 1760,1578 1792,1552.6 C 1830,1522 1880,1497 1932,1486 C 1950,1482.5 1968,1481 1985,1481 C 2030,1481 2070,1504 2108,1526 C 2150,1551 2180,1572 2213.7,1572 C 2260,1572 2320,1545 2384,1526 C 2430,1514 2470,1513 2516,1513 L2516,1660 L1700,1660 Z" fill="#e8f1fd"/>
  <path d="M757,1652 C 815,1572 880,1529.5 946,1529.5 C 1050,1529.5 1200,1592 1320,1592 C 1400,1592 1465,1580 1521,1556 C 1600,1522 1650,1480 1706,1456 C 1750,1438 1800,1429.5 1842,1429.5 C 1890,1429.5 1930,1447 1967.6,1481 C 2020,1528 2070,1592 2128,1650 L757,1652 Z" fill="#e8f5e3"/>
  <path d="M2309,1650 C 2360,1615 2410,1568 2450,1516 C 2475,1483 2496,1447 2516,1408 L2516,1660 L2309,1660 Z" fill="#e8f5e3"/>
  <g clip-path="url(#cf)" opacity="0.5" stroke="#d2dccd" stroke-width="2" stroke-dasharray="12 12" fill="none">
    <path d="M366,1360.3 H2516"/><path d="M366,1481 H2516"/><path d="M366,1601.6 H2516"/>
    <path d="M1521,1362 V1650" stroke="#e5e5e5" stroke-width="4" stroke-dasharray="8 8"/>
  </g>
  <path d="M790,1652 C 830,1638 875,1629 918,1629 C 965,1629 1015,1638 1056,1652" fill="none" stroke="#1f74d8" stroke-width="5.5" stroke-linecap="round"/>
  <path d="M1700,1660 C 1730,1610 1760,1578 1792,1552.6 C 1830,1522 1880,1497 1932,1486 C 1950,1482.5 1968,1481 1985,1481 C 2030,1481 2070,1504 2108,1526 C 2150,1551 2180,1572 2213.7,1572 C 2260,1572 2320,1545 2384,1526 C 2430,1514 2470,1513 2516,1513" fill="none" stroke="#1f74d8" stroke-width="5.5"/>
  <path d="M757,1652 C 815,1572 880,1529.5 946,1529.5 C 1050,1529.5 1200,1592 1320,1592 C 1400,1592 1465,1580 1521,1556 C 1600,1522 1650,1480 1706,1456 C 1750,1438 1800,1429.5 1842,1429.5 C 1890,1429.5 1930,1447 1967.6,1481 C 2020,1528 2070,1592 2128,1650" fill="none" stroke="#52b82c" stroke-width="5.5"/>
  <path d="M2309,1650 C 2360,1615 2410,1568 2450,1516 C 2475,1483 2496,1447 2516,1408" fill="none" stroke="#52b82c" stroke-width="5.5"/>
  <circle cx="1521" cy="1556" r="17.5" fill="#52b82c"/>
</svg>
<div class="yl" id="y1" style="top:1347px;letter-spacing:0.26px">Tsh 250M</div>
<div class="yl" id="y2" style="top:1468px;letter-spacing:0.26px">Tsh 200M</div>
<div class="yl" id="y3" style="top:1588px;letter-spacing:-0.6px">Tsh 150M</div>

<div class="abs" style="left:1598px;top:1553px;width:340px;height:140px;background:#fff;border-radius:11px;box-shadow:0 6px 28px rgba(0,0,0,0.13)"></div>
<div class="t" id="aug" style="left:1629px;top:1582px;font-size:30px;color:#1d1d1d;letter-spacing:-0.2px;-webkit-text-stroke:0.35px #1d1d1d">Aug 17</div>
<div class="abs" style="left:1629px;top:1636.8px;width:18.8px;height:18.8px;border-radius:50%;background:#52b82c"></div>
<div class="t" id="tip" style="left:1662px;top:1632.5px;font-size:29px;color:#1d1d1d;-webkit-text-stroke:0;font-weight:700;letter-spacing:0.3px">Tsh 168.7M</div>



<div class="winb"></div>
</div>
<!-- corner artefacts -->
<div class="blk" style="left:0;top:0;width:16px;height:8px"></div>
<div class="blk" style="left:0;top:8px;width:8px;height:8px"></div>
<div class="blk" style="left:2728px;top:0;width:17px;height:8px"></div>
<div class="blk" style="left:2736px;top:8px;width:9px;height:8px"></div>
<div class="blk" style="left:2744px;top:16px;width:1px;height:16px"></div>
<div class="blk" style="left:0;top:1632px;width:8px;height:8px"></div>
<div class="blk" style="left:0;top:1640px;width:16px;height:8px"></div>
<div class="blk" style="left:0;top:1648px;width:32px;height:2px"></div>
<div class="blk" style="left:2744px;top:1616px;width:1px;height:16px"></div>
<div class="blk" style="left:2736px;top:1632px;width:9px;height:16px"></div>
<div class="blk" style="left:2720px;top:1648px;width:25px;height:2px"></div>
</body>
</html>
